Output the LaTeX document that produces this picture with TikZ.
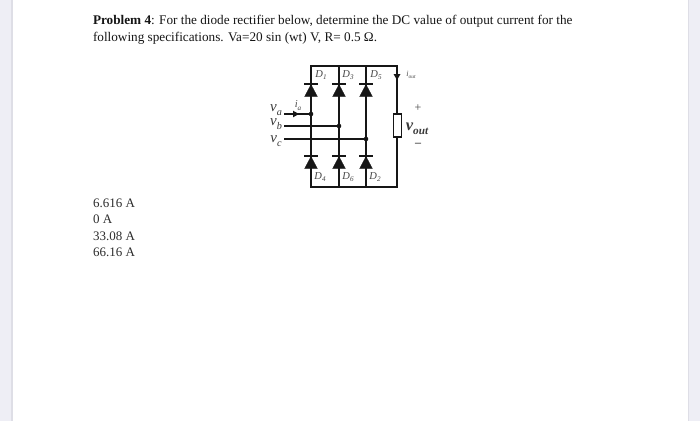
\documentclass[tikz,border=0pt]{standalone}
\usepackage{fontspec}
\setmainfont{Liberation Serif}
\usetikzlibrary{arrows.meta}
\definecolor{pagebg}{HTML}{EEEEF5}
\definecolor{pageedge}{HTML}{DEDEE6}
\definecolor{ink}{HTML}{161616}
\newcommand{\subs}[1]{\raisebox{-0.22em}{\scalebox{0.68}{#1}}}
\tikzset{
  wire/.style={draw=ink,line width=1.35pt},
  txt/.style={anchor=base west,inner sep=0pt,outer sep=0pt,text=ink,font=\fontsize{13.22}{15}\selectfont},
  ans/.style={anchor=base west,inner sep=0pt,outer sep=0pt,text=ink!90,font=\fontsize{13}{15}\selectfont},
  lab/.style={inner sep=0pt,outer sep=0pt,text=ink!80,font=\fontsize{10.5}{12}\selectfont\itshape},
  vlab/.style={inner sep=0pt,outer sep=0pt,text=ink!85,font=\fontsize{15}{17}\selectfont\itshape},
  dot/.style={circle,fill=ink,inner sep=0pt,minimum size=4.6pt},
  resbox/.style={draw=ink,line width=1.4pt,fill=white,minimum width=8.5pt,minimum height=23pt,inner sep=0pt},
  tri/.style={fill=ink,draw=ink,line width=0.2pt}
}
\newcommand{\diodeat}[2]{%
  \fill[tri] (#1-6.4,#2+12.5) -- (#1+6.4,#2+12.5) -- (#1,#2+0.5) -- cycle;
  \draw[ink,line width=1.4pt] (#1-6.8,#2) -- (#1+6.8,#2);
}
\begin{document}
\begin{tikzpicture}[x=1pt,y=-1pt]
\useasboundingbox (0,0) rectangle (700,421);
\fill[pagebg] (0,0) rectangle (700,421);
\fill[pageedge] (11,0) rectangle (14,421);
\fill[pageedge] (686,0) rectangle (689,421);
\fill[white] (13,0) rectangle (687.5,421);

\node[txt] (l1) at (93,24) {\textbf{Problem 4}: For the diode rectifier below, determine the DC value of output current for the};
\node[txt] (l2) at (93,41) {following specifications. Va=20 sin (wt) V, R= 0.5 Ω.};
\node[ans] (a1) at (93,207) {6.616 A};
\node[ans] (a2) at (93,223.5) {0 A};
\node[ans] (a3) at (93,240) {33.08 A};
\node[ans] (a4) at (93,256.5) {66.16 A};

% circuit
\coordinate (t1) at (311,66); \coordinate (t3) at (339,66); \coordinate (t5) at (366,66); \coordinate (tr) at (397,66);
\coordinate (b1) at (311,187); \coordinate (b3) at (339,187); \coordinate (b5) at (366,187); \coordinate (br) at (397,187);
\coordinate (sa) at (284,114); \coordinate (sb) at (284,126); \coordinate (sc) at (284,139);
\node[dot] (ja) at (311,114) {};
\node[dot] (jb) at (339,126) {};
\node[dot] (jc) at (366,139) {};
\draw[wire] (t1) -- (tr) -- (br) -- (b1) -- cycle;
\draw[wire] (t3) -- (b3);
\draw[wire] (t5) -- (b5);
\draw[wire] (sa) -- (ja);
\draw[wire] (sb) -- (jb);
\draw[wire] (sc) -- (jc);
\diodeat{311}{84}
\diodeat{339}{84}
\diodeat{366}{84}
\diodeat{311}{156}
\diodeat{339}{156}
\diodeat{366}{156}
\node[resbox] (r) at (397.5,125.5) {};
\fill[ink] (393.5,74) -- (400.5,74) -- (397,80) -- cycle;
\fill[ink] (293,110.7) -- (299,114) -- (293,117.3) -- cycle;

\node[lab] (d1) at (321,75) {D\subs{1}};
\node[lab] (d3) at (348,75) {D\subs{3}};
\node[lab] (d5) at (376,75) {D\subs{5}};
\node[lab] (d4) at (320,177) {D\subs{4}};
\node[lab] (d6) at (348,177) {D\subs{6}};
\node[lab] (d2) at (375,177) {D\subs{2}};
\node[lab,font=\fontsize{8}{9}\selectfont\itshape] (io) at (411,75) {i\subs{out}};
\node[lab] (ia) at (298,105.5) {i\subs{a}};
\node[vlab] (va) at (276,110) {v\subs{a}};
\node[vlab] (vb) at (276,124) {v\subs{b}};
\node[vlab] (vc) at (276,141) {v\subs{c}};
\node[vlab,font=\fontsize{16.5}{18}\selectfont\itshape\bfseries] (vo) at (417,128.5) {v\subs{out}};
\node[lab,font=\fontsize{12}{14}\selectfont] (pl) at (418,108) {+};
\node[lab,font=\fontsize{12}{14}\selectfont\bfseries] (mi) at (418,144.5) {--};
\end{tikzpicture}
\end{document}
